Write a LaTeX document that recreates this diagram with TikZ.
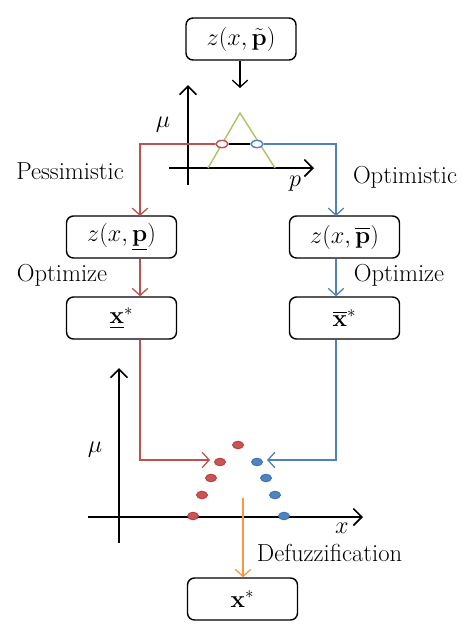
\documentclass[tikz,border=0pt]{standalone}
\usepackage{amsmath,amssymb}
\usetikzlibrary{arrows.meta,positioning,shapes.geometric}
\definecolor{pessred}{RGB}{192,80,77}
\definecolor{optblue}{RGB}{79,129,189}
\definecolor{fuzzgreen}{RGB}{170,198,100}
\definecolor{defuzzorange}{RGB}{247,150,70}
\definecolor{dotred}{RGB}{190,55,55}
\definecolor{dotblue}{RGB}{50,110,180}
\begin{document}
\begin{tikzpicture}[x=0.025cm, y=-0.025cm,
    box/.style={draw, line width=1pt, rounded corners=5pt, minimum width=2.75cm, minimum height=1.05cm, font=\fontsize{17}{20}\selectfont},
    lbl/.style={font=\fontsize{17.5}{20}\selectfont},
    arr/.style={-{Straight Barb[length=5pt,width=11pt]}, line width=0.9pt},
    axis/.style={-{Straight Barb[length=6pt,width=12pt]}, line width=1.2pt},
    cutmark/.style={draw, ellipse, fill=white, line width=1pt, minimum width=0.3cm, minimum height=0.18cm, inner sep=0pt}
]
\useasboundingbox[fill=white] (0,0) rectangle (474,639);

\node[box] (zfuzzy) at (241,39) {$z(x,\tilde{\mathbf{p}})$};
\node[box] (zpess) at (121.5,237) {$z(x,\underline{\mathbf{p}})$};
\node[box] (zopt) at (344.5,237) {$z(x,\overline{\mathbf{p}})$};
\node[box] (xpess) at (121.5,318) {$\underline{\mathbf{x}}^*$};
\node[box] (xopt) at (344.5,318) {$\overline{\mathbf{x}}^*$};
\node[box] (xstar) at (242.5,599) {$\mathbf{x}^*$};

\coordinate (fuzzin) at (240,88);
\coordinate (pin) at (140,216);
\coordinate (bin) at (336,216);
\coordinate (pdot) at (210,460);
\coordinate (bdot) at (267,460);
\coordinate (defuzz) at (243,498);

% fuzzy parameter
\draw[axis] (188,185) -- (188,85);
\draw[axis] (169,168) -- (314,168);
\draw[fuzzgreen, line width=1pt] (208,168) -- (240,113) -- (275,168);
\node[cutmark, draw=pessred] (lo) at (222,144) {};
\node[cutmark, draw=optblue] (hi) at (257,144) {};
\draw[line width=1pt] (lo) -- (hi);
\node[lbl] (mutop) at (163,125) {$\mu$};
\node[lbl] (ptop) at (295,184) {$p$};
\draw[arr] (zfuzzy.south -| fuzzin) -- (fuzzin);

% pessimistic / optimistic
\draw[arr, pessred] (lo.west) -| (pin);
\draw[arr, optblue] (hi.east) -| (bin);
\node[lbl] (pesslbl) at (70,171) {Pessimistic};
\node[lbl] (optlbl) at (405,177) {Optimistic};
\draw[arr, pessred] (zpess.south -| pin) -- (xpess.north -| pin);
\draw[arr, optblue] (zopt.south -| bin) -- (xopt.north -| bin);
\node[lbl] (optimleft) at (62,275) {Optimize};
\node[lbl] (optimright) at (399,275) {Optimize};

% fuzzy solution
\draw[axis] (119,543) -- (119,368);
\draw[axis] (88,517) -- (363,517);
\node[lbl] (mubot) at (95,450) {$\mu$};
\node[lbl] (xbot) at (342,528) {$x$};
\draw[arr, pessred] (xpess.south -| pin) |- (pdot);
\draw[arr, optblue] (xopt.south -| bin) |- (bdot);
\foreach \x/\y in {238/445, 220/462, 211/478, 202/495, 193/516}
  \filldraw[draw=dotred, fill=dotred!85, line width=0.6pt] (\x,\y) ellipse (5.5 and 3.8);
\foreach \x/\y in {257/462, 266/478, 275/495, 284/516}
  \filldraw[draw=dotblue, fill=dotblue!85, line width=0.6pt] (\x,\y) ellipse (5.5 and 3.8);

\draw[arr, defuzzorange] (defuzz) -- (xstar.north -| defuzz);
\node[lbl, anchor=west] (defuzzlbl) at (252,553) {Defuzzification};
\end{tikzpicture}
\end{document}
